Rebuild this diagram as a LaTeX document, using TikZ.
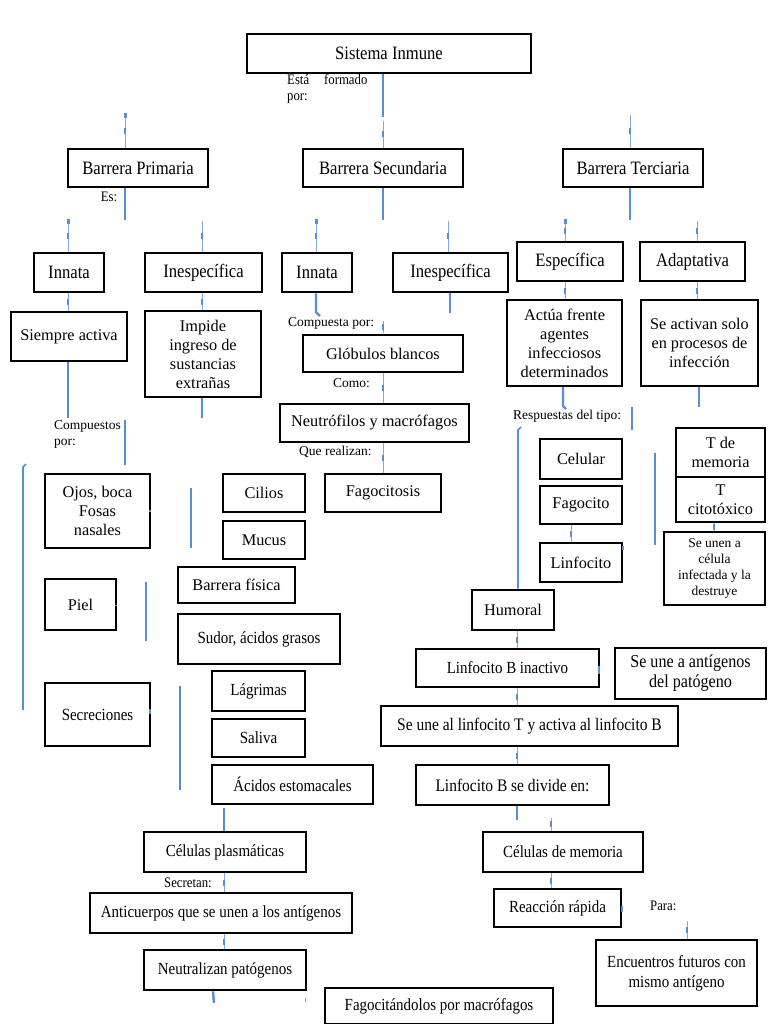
\documentclass[tikz,border=0pt]{standalone}
\usepackage{fontspec}
\setmainfont{Liberation Serif}
\newfontfamily\condf[FakeStretch=0.88]{Liberation Serif}
\usetikzlibrary{calc,decorations.markings}
\definecolor{lblue}{RGB}{88,142,212}
\definecolor{pblue}{RGB}{130,172,225}
\newcommand{\fmain}{\fontsize{16.3}{19}\selectfont}
\newcommand{\ftop}{\condf\fontsize{18.9}{19}\selectfont}
\newcommand{\fcond}{\condf\fontsize{17}{20}\selectfont}
\newcommand{\fsmall}{\fontsize{13.5}{16}\selectfont}
\newcommand{\fsmallc}{\condf\fontsize{14.5}{16}\selectfont}
\tikzset{
  box/.style={draw=black, line width=2.6pt, align=center, inner sep=1pt, font=\fmain, fill=white},
  boxt/.style={box, line width=1.9pt},
  lbl/.style={font=\fsmall, inner sep=0pt, align=left},
  lblc/.style={font=\fsmallc, inner sep=0pt, align=left},
  bl/.style={draw=lblue, line width=2.4pt},
  blt/.style={draw=pblue, line width=0.9pt, postaction={decorate},
    decoration={markings, mark=at position 0.5 with {\fill[lblue] (-3,-1.1) rectangle (3,1.1);}}},
  bld/.style={draw=lblue, line width=1.7pt},
}
\begin{document}
\begin{tikzpicture}[x=1pt,y=-1pt]
\useasboundingbox[fill=white] (0,0) rectangle (768,1024);

% ---------- boxes ----------
\node[box, font=\ftop, minimum width=284pt, minimum height=39pt] (sis) at (389,53.5) {Sistema Inmune};
\node[box, font=\ftop, minimum width=140pt, minimum height=38pt] (bp) at (138,168) {Barrera Primaria};
\node[box, font=\ftop, minimum width=160pt, minimum height=38pt] (bs) at (383,168) {Barrera Secundaria};
\node[box, font=\ftop, minimum width=140pt, minimum height=38pt] (bt) at (633,168) {Barrera Terciaria};

\node[box, font=\ftop, minimum width=70pt, minimum height=39pt] (inn1) at (69,272.5) {Innata};
\node[box, font=\ftop, minimum width=117pt, minimum height=39pt] (ine1) at (203.5,272.5) {Inespecífica};
\node[box, font=\ftop, minimum width=70pt, minimum height=39pt] (inn2) at (317,272.5) {Innata};
\node[box, font=\ftop, minimum width=115pt, minimum height=39pt] (ine2) at (450.5,272.5) {Inespecífica};
\node[box, font=\ftop, minimum width=106pt, minimum height=39pt] (esp) at (570,261.5) {Específica};
\node[box, font=\ftop, minimum width=105pt, minimum height=39pt] (ada) at (692.5,261.5) {Adaptativa};

\node[boxt, minimum width=116pt, minimum height=49pt] (siem) at (69,336.5) {Siempre activa};
\node[boxt, minimum width=116pt, minimum height=86pt] (imp) at (203,354) {Impide\\ingreso de\\sustancias\\extrañas};
\node[box, minimum width=160pt, minimum height=37pt] (glob) at (383,353.5) {Glóbulos blancos};
\node[box, minimum width=189pt, minimum height=38pt] (neu) at (374.5,423) {Neutrófilos y macrófagos};
\node[box, minimum width=116pt, minimum height=38pt] (fag) at (383,493) {Fagocitosis};
\node[boxt, minimum width=115pt, minimum height=86pt] (act) at (564.5,343) {Actúa frente\\agentes\\infecciosos\\determinados};
\node[boxt, minimum width=117pt, minimum height=86pt] (sea) at (699.5,343) {Se activan solo\\en procesos de\\infección};

\node[boxt, minimum width=105pt, minimum height=74pt] (ojos) at (97.5,511) {Ojos, boca\\Fosas\\nasales};
\node[box, minimum width=82pt, minimum height=38pt] (cil) at (264,493) {Cilios};
\node[box, minimum width=82pt, minimum height=38pt] (muc) at (264,540) {Mucus};
\node[boxt, minimum width=71pt, minimum height=51pt] (piel) at (80.5,604.5) {Piel};
\node[box, minimum width=117pt, minimum height=36pt] (bf) at (236.5,585) {Barrera física};
\node[box, font=\fcond, minimum width=162pt, minimum height=50pt] (sud) at (259,639) {Sudor, ácidos grasos};
\node[boxt, font=\fcond, minimum width=105pt, minimum height=63pt] (sec) at (97.5,714.5) {Secreciones};
\node[box, font=\fcond, minimum width=93pt, minimum height=40pt] (lag) at (258.5,691) {Lágrimas};
\node[box, font=\fcond, minimum width=93pt, minimum height=38pt] (sal) at (258.5,738) {Saliva};
\node[box, font=\fcond, minimum width=161pt, minimum height=39pt] (ace) at (292.5,784.5) {Ácidos estomacales};

\node[box, minimum width=82pt, minimum height=40pt] (cel) at (581,459) {Celular};
\node[box, minimum width=82pt, minimum height=38pt] (fgc) at (581,505) {Fagocito};
\node[box, minimum width=82pt, minimum height=39pt] (lin) at (581,562.5) {Linfocito};
\node[box, minimum width=82pt, minimum height=40pt] (hum) at (513,610) {Humoral};
\node[boxt, minimum width=89pt, minimum height=49pt] (tmem) at (720.5,452.5) {T de\\memoria};
\node[boxt, minimum width=89pt, minimum height=45pt] (tcit) at (720.5,499.5) {T\\citotóxico};
\node[boxt, minimum width=101pt, minimum height=73pt, font=\fontsize{13.5}{16}\selectfont] (seun) at (714.5,568.5) {Se unen a\\célula\\infectada y la\\destruye};

\node[box, font=\fcond, minimum width=183pt, minimum height=38pt] (lbi) at (507.5,668) {Linfocito B inactivo};
\node[boxt, minimum width=151pt, minimum height=51pt, font=\condf\fontsize{18.3}{20}\selectfont] (seant) at (690.5,673.5) {Se une a antígenos\\del patógeno};
\node[box, minimum width=297pt, minimum height=40pt, font=\condf\fontsize{17.6}{18}\selectfont] (seuneT) at (529.5,726) {Se une al linfocito T y activa al linfocito B};
\node[box, font=\condf\fontsize{17.6}{18}\selectfont, minimum width=193pt, minimum height=40pt] (lbd) at (512.5,785) {Linfocito B se divide en:};
\node[box, minimum width=160pt, minimum height=40pt, font=\fcond] (cm) at (563,852) {Células de memoria};
\node[box, minimum width=127pt, minimum height=38pt, font=\fcond] (rr) at (557.5,908) {Reacción rápida};
\node[boxt, minimum width=161pt, minimum height=66pt, font=\fcond] (enc) at (676.5,973) {Encuentros futuros con\\mismo antígeno};

\node[box, minimum width=162pt, minimum height=40pt, font=\fcond] (cp) at (225,852) {Células plasmáticas};
\node[box, minimum width=262pt, minimum height=40pt, font=\fcond] (ant) at (221,913) {Anticuerpos que se unen a los antígenos};
\node[box, minimum width=162pt, minimum height=40pt, font=\fcond] (neut) at (225,970) {Neutralizan patógenos};
\node[boxt, minimum width=228pt, minimum height=36pt, font=\fcond] (fgm) at (439,1006) {Fagocitándolos por macrófagos};

% ---------- labels ----------
\node[lblc, anchor=north west] (l1) at (287,74) {Está\hspace{15pt}formado\\por:};
\node[lblc] (l2) at (109,197) {Es:};
\node[lbl, anchor=west] (l3) at (288,323) {Compuesta por:};
\node[lbl, anchor=west] (l4) at (333,383) {Como:};
\node[lbl, anchor=west] (l5) at (299,452) {Que realizan:};
\node[lbl, anchor=west] (l6) at (513,416) {Respuestas del tipo:};
\node[lbl, anchor=north west] (l7) at (54,420) {Compuestos\\por:};
\node[lblc, anchor=west] (l8) at (164,883) {Secretan:};
\node[lblc, anchor=west] (l9) at (650,906) {Para:};

% ---------- free end coordinates ----------
\coordinate (a1) at (383,117);
\coordinate (a2) at (383,121);
\coordinate (b1) at (125,220);  \coordinate (b0) at (125,115);
\coordinate (b2) at (383,220);
\coordinate (b3) at (630,220);  \coordinate (b4) at (630,115);
\coordinate (c1) at (68,221);
\coordinate (c2) at (202,221);
\coordinate (c3) at (316,221);
\coordinate (c4) at (448,221);
\coordinate (c5) at (565,221);
\coordinate (c6) at (697,221);
\coordinate (d1) at (68,418);
\coordinate (d2) at (202,418);
\coordinate (d3) at (320,316);
\coordinate (d4) at (450,313);
\coordinate (d5) at (566,409);
\coordinate (d6) at (699,407);
\coordinate (e1) at (125,420); \coordinate (e2) at (125,465);
\coordinate (e3) at (383,321); \coordinate (e4) at (383,333);
\coordinate (f1) at (632,407); \coordinate (f2) at (632,430);
\coordinate (g1) at (26,464);  \coordinate (g2) at (23,710);
\coordinate (h1) at (191,488); \coordinate (h2) at (191,548);
\coordinate (h3) at (146,582); \coordinate (h4) at (146,641);
\coordinate (h5) at (180,686); \coordinate (h6) at (180,790);
\coordinate (k1) at (521,427); \coordinate (k2) at (655,453); \coordinate (k3) at (655,545);
\coordinate (m1) at (517,820);
\coordinate (m2) at (551,818);
\coordinate (m3) at (224,808);
\coordinate (m4) at (687,921);
\coordinate (m5) at (214,1003);
\coordinate (dot1) at (305,998);

% ---------- blue connectors ----------
\draw[bl] (sis.south -| a1) -- (a1);
\draw[blt] (a2) -- (bs.north -| a2);
\draw[blt] (b0) -- (bp.north -| b0);
\draw[bl] (bp.south -| b1) -- (b1);
\draw[bl] (bs.south -| b2) -- (b2);
\draw[blt] (b4) -- (bt.north -| b4);
\draw[bl] (bt.south -| b3) -- (b3);

\draw[blt] (c1) -- (inn1.north -| c1);
\draw[blt] (c2) -- (ine1.north -| c2);
\draw[blt] (c3) -- (inn2.north -| c3);
\draw[blt] (c4) -- (ine2.north -| c4);
\draw[blt] (c5) -- (esp.north -| c5);
\draw[blt] (c6) -- (ada.north -| c6);
\fill[lblue] ($(c1)+(-1.5,-2)$) rectangle ++(3,5);
\fill[lblue] ($(c3)+(-1.5,-2)$) rectangle ++(3,5);
\fill[lblue] ($(c5)+(-1.5,-2)$) rectangle ++(3,5);
\fill[lblue] ($(b0)+(-1.5,-2)$) rectangle ++(3,5);

\draw[blt] (inn1.south -| c1) -- (siem.north -| c1);
\draw[blt] (ine1.south -| c2) -- (imp.north -| c2);
\draw[bl] (inn2.south -| c3) -- ++(0,19) -- (d3);
\draw[bl] (ine2.south -| d4) -- (d4);
\draw[blt] (esp.south -| c5) -- (act.north -| c5);
\draw[blt] (ada.south -| c6) -- (sea.north -| c6);

\draw[bl] (siem.south -| d1) -- (d1);
\draw[bl] (imp.south -| d2) -- (d2);
\draw[bl] (e1) -- (e2);
\draw[blt] (e3) -- (e4);
\draw[blt] (glob.south) -- (neu.north -| glob.south);
\draw[blt] (neu.south -| fag.north) -- (fag.north);
\draw[bl] (act.south -| 563,0) -- ++(0,19) -- (d5);
\draw[bl] (sea.south -| d6) -- (d6);
\draw[bl] (f1) -- (f2);

\draw[bld] (g1) -- (23,467) -- (g2);
\draw[bld] (h1) -- (h2);
\draw[bld] (h3) -- (h4);
\draw[bld] (h5) -- (h6);
\draw[bld] (k1) -- (518,430) -- (hum.north -| 518,0);
\draw[bl] (k2) -- (k3);

\draw[blt] (fgc.south -| 571,0) -- (lin.north -| 571,0);
\draw[blt] (tcit.south -| 714,0) -- (seun.north -| 714,0);
\draw[blt] (hum.south -| 517,0) -- (lbi.north -| 517,0);
\draw[blt] (lbi.south -| 517,0) -- (seuneT.north -| 517,0);
\draw[blt] (seuneT.south -| 517,0) -- (lbd.north -| 517,0);
\draw[bl] (lbd.south -| m1) -- (m1);
\draw[blt] (m2) -- (cm.north -| m2);
\draw[blt] (cm.south -| m2) -- (rr.north -| m2);
\draw[blt] (m4) -- (enc.north -| m4);
\draw[bld] (m3) -- (cp.north -| m3);
\draw[blt] (cp.south -| m3) -- (ant.north -| m3);
\draw[blt] (ant.south -| m3) -- (neut.north -| m3);
\draw[bl] (neut.south -| 213,0) -- (m5);

% small blue ticks
\draw[bld] (ojos.east) ++(-2,0) -- ++(2,0);
\draw[bld] (piel.east) ++(-2,1) -- ++(2,0);
\draw[bld] (sec.east) ++(-1,-6) -- ++(0,5);
\draw[bld] (lin.north east) ++(0,4) -- ++(0,4);
\draw[bld] (lbi.east) ++(-1,-2) -- ++(0,8);
\draw[bld] (rr.east) ++(0,-2) -- ++(0,6);
\draw[pblue, line width=1pt] (dot1) -- ++(0,4);
\end{tikzpicture}
\end{document}
